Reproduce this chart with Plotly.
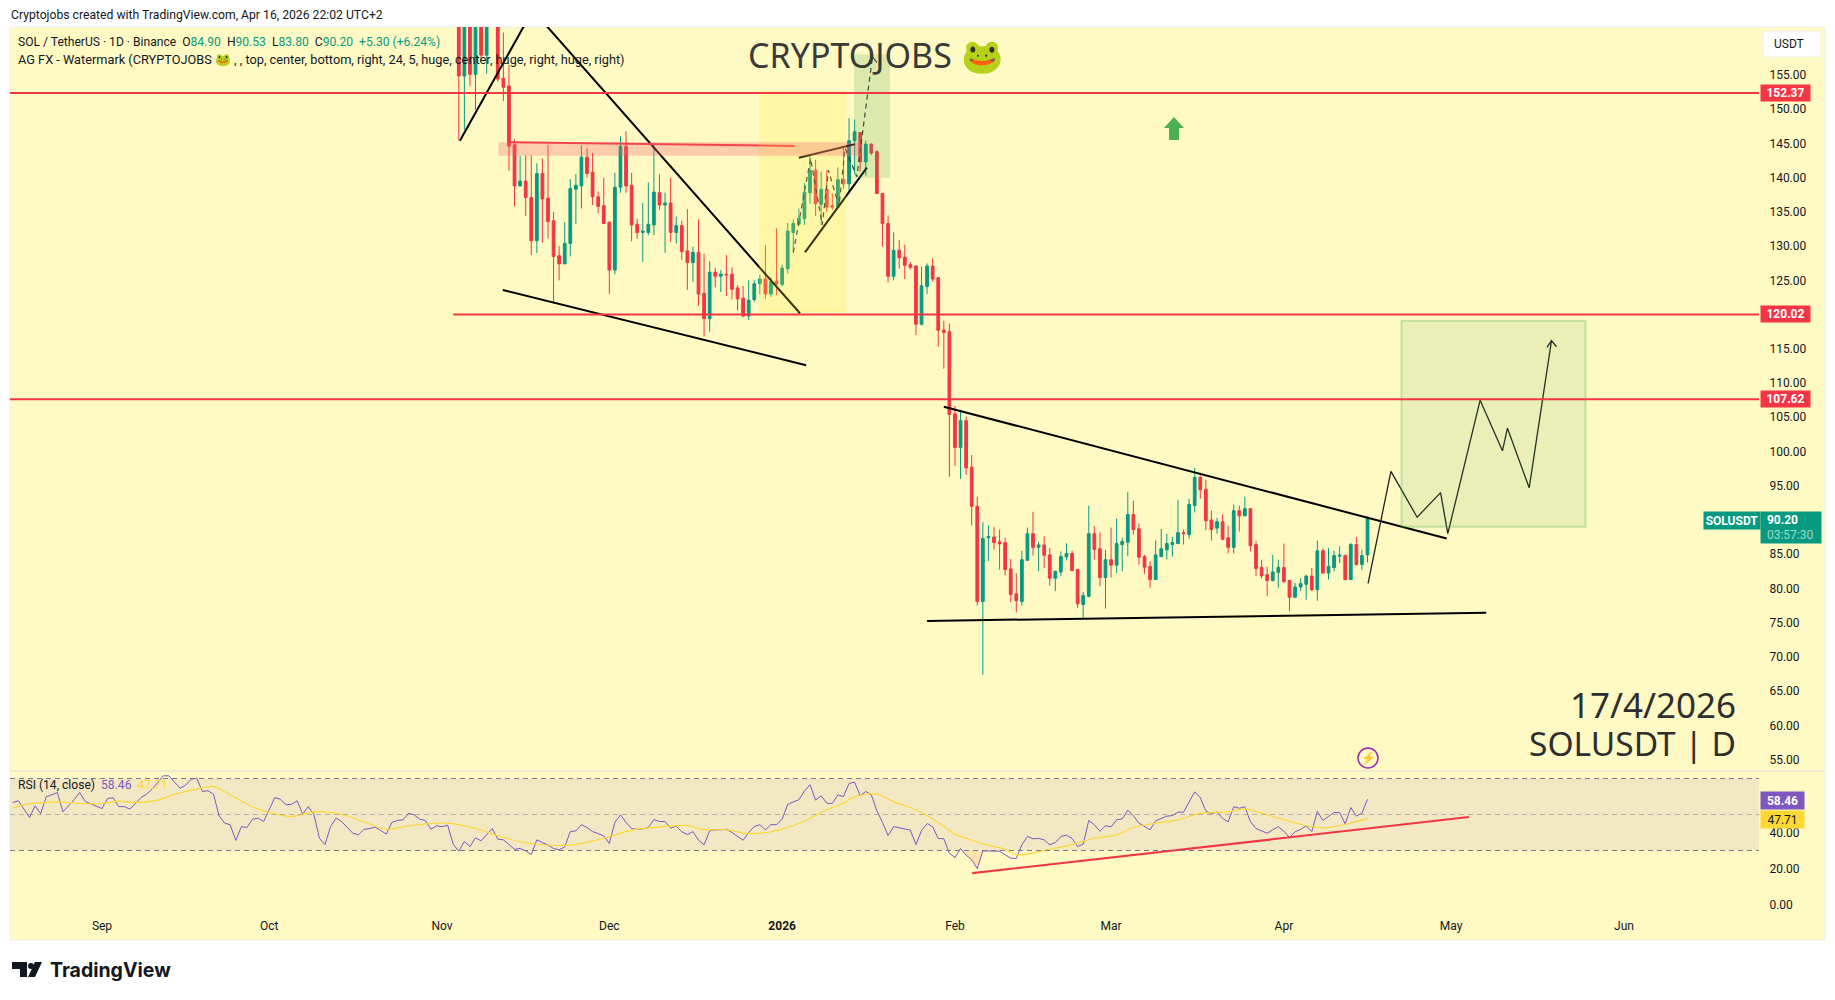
import pandas as pd
import plotly.graph_objects as go

# --- values ---
base_day = pd.Timestamp("2025-09-01")
candle_start = "2025-11-04"
rsi_start = "2025-08-16"

opens = [170,154.85,165,155.1,167,157.9,167,165,154.5,153.4,144.8,138.8,139.5,137.1,130.8,140.6,137,133.7,128.6,127.4,
         130.4,138.3,138.8,143,140.8,137.2,135.9,133.5,126.5,138.6,144.6,138.9,133.2,132,132,133.1,137.8,136,136.3,132,
         133,129.3,127.6,129.1,123.1,119.4,126.2,125.6,125.9,125.9,123.9,122.4,119.8,122.2,124.5,125.2,123,124.9,124.4,126.7,
         132,133.2,134,137.8,141.1,136.1,138.3,135.9,135.7,139.7,139.1,145.4,146.6,142.3,144.9,143.8,137.7,133.3,125.6,129.4,
         128.4,127.3,127.1,118.6,124.1,127.1,125.4,117.75,117.5,105.5,100.6,104.5,97.7,92,78.1,87.4,87.5,86.8,86.7,82.85,
         79.2,78.1,84.1,88,86,86.35,84.9,81.5,82.4,84.6,85.1,82.75,77.65,78.85,88,85.8,81.6,84.2,83.4,86.4,
         86.75,90.8,88.7,84.65,83.2,81.3,84.65,85.65,86.4,86.55,88.15,87.85,92.1,96.2,94.5,90,88.8,89.75,87.4,86,
         91.35,90.6,91.65,86.4,83.05,82,81.15,82.35,83.05,81.15,78.7,80.2,80.6,81.8,79.8,85.5,82.25,83.05,84.7,84.8,
         81.3,86.4,83.5,84.9]
highs = [172,170,167,168,168,168,172,167,161.2,156.5,145.6,143.2,143.3,143.3,142.1,142.8,144.8,135,130,133.5,
         139.8,140.5,144.7,144.3,143.6,138,140,133.6,140.7,146.1,146.8,140.7,134,136.3,139.3,144.9,140.5,137.8,140,134.3,
         133.7,135.4,129.9,133.9,128.9,127.8,126.8,126.5,128.7,126.9,124.3,124.2,125,125,125.8,130.2,125.5,132.6,127.3,133.4,
         133.9,135.5,139.2,143.4,142.6,140.9,141.1,137.7,141.5,144.5,148.7,148.5,146.6,145.4,145,144,137.7,134.5,132,130.9,
         130.2,127.7,127.2,127,127.5,128.2,125.5,119.1,118.7,106.65,106.1,105.1,99.5,93.4,89.66,89.2,89,88.6,87.4,84.3,
         82.2,85.5,88.9,91.2,86.8,87.6,85.9,82.6,85.4,86.6,85.5,82.75,79.5,92.1,89.1,88.2,85.6,88.9,90.2,87.4,
         94.05,92.8,89.5,84.9,84,87,88.7,88,87.5,92.95,88.6,93.1,97.6,96.9,95.9,91.35,90.3,90.8,89.15,92.25,
         92.1,93.4,91.75,86.95,84.2,83.15,84.9,84.2,86.55,81.15,80.8,81.5,82,83,87,85.85,85.9,85.5,86.15,84.95,
         86.65,87.5,85.65,90.53]
lows = [145.4,147,153.4,149.9,157,155.2,163.5,154,151.2,141,135.8,138.7,134.4,128.7,129,130.5,131.1,121.6,125,127.4,
        128.5,133.2,135.5,140,136,134.8,133.3,123,125.9,137.8,137.8,130.7,131.1,127.7,131.6,131.6,135.3,129,130.6,130.4,
        128,123.6,124.8,121.3,116.8,117.5,124,123.3,122.7,122.2,120.6,119.6,119.2,121.9,123,122.3,122.6,122.9,124.1,126,
        129.2,133.1,133.1,136.2,134.4,133.1,135,135.3,135.7,138.4,137.9,140.6,140.9,140.3,143.3,137.6,129.9,124.7,125,126.7,
        125.2,126.6,117,118.4,123,124.8,115.3,112.1,96.3,97.9,96,96.6,89.2,77.5,67.4,84,85.7,82.75,81.9,78,
        76.5,77.5,84.1,84.8,82.5,83,80.4,79.6,81.8,84.1,82.5,77.15,75.7,78.7,84.2,80.3,77.05,81.6,82.25,82.5,
        84.7,87.85,83.5,82.15,80.1,81.3,84.65,84.2,84.65,86.55,86.4,87.3,91.1,93.1,88.5,87,88,87,85.1,85.1,
        88.3,90.6,85.4,81.8,81.5,78.85,81,80.1,80.8,76.65,78.7,79.6,78.35,79.6,78.2,82.15,81.3,82.5,83.7,81.15,
        81.3,83.35,82.65,83.8]
closes = [154.85,165,155.1,167,157.9,167,166,154.4,153.2,144.6,138.8,139.5,137.1,130.8,140.6,136.9,133.6,128.5,127.4,130.4,
          138.4,138.9,143,140.6,137.2,135.8,133.3,126.5,138.6,144.6,138.8,133.1,132,132.2,133.2,137.9,136,136.3,132,133,
          129.2,127.6,129.1,123,119.4,126.2,125.6,125.9,125.8,123.7,122.3,119.8,122.1,124.5,125.2,123,124.8,124.5,126.8,132.2,
          133.3,134.1,137.9,141.1,136.2,138.3,135.7,135.7,139.7,139.1,145.4,146.7,142.3,144.9,143.6,137.7,133.3,125.6,129.4,128.3,
          127.2,126.9,118.6,124.2,127.1,125.2,117.7,117.4,105.4,100.6,104.5,97.6,92,78.1,87.3,87.6,86.7,86.5,82.75,79.1,
          78.2,84.2,88,86,86.35,84.85,81.5,82.5,84.65,85.1,82.6,77.75,78.95,88,85.7,81.6,84.2,83.4,86.55,86.85,
          90.8,88.6,84.55,83.1,81.3,84.9,85.8,86.55,86.7,88.15,88,92.25,96.2,94.4,89.9,88.6,89.75,87.2,86,91.35,
          90.6,91.65,86.25,82.9,81.85,81.15,82.4,83.05,81,78.7,80.2,80.7,81.8,79.8,85.5,82.25,83.2,84.8,84.85,81.3,
          86.4,83.5,84.8,90.2]

rsi = [56.7,57.6,53,48.3,54.8,50.5,59.8,60.9,62.2,51.5,54.8,58.2,62.2,57.2,55.9,54.8,53.3,58.9,59.3,54.4,54.4,53,56.3,59.4,61.3,
       64.1,67.8,71.5,71.5,68.1,64.6,66.3,69.6,70.2,62.8,63.2,61.3,49.3,45.2,44.3,35.6,43.2,42.8,47.4,48,46.1,53,59.4,58.5,55.4,
       55.7,57.6,50.2,54.4,50.2,36.8,33.3,43.3,48,46.1,42.8,39.6,38.7,41.8,42.2,43,41.1,39.1,45.6,46.7,47,50.7,49.8,47.4,46.7,
       41.8,43.7,43.2,44.1,33.5,29.6,35,32.2,37,35.4,38.9,42.2,36.3,35.9,33.3,30.7,31.1,29.8,27.8,35.9,34.4,33.1,31.1,30.4,32,
       40.5,40.9,44.3,42.8,40.5,39.4,38.1,33.9,45.6,49.8,45.6,42.2,41.7,42,42.8,47.2,46.1,46.1,42.4,43.5,40.4,38.9,40.5,35.7,
       33.2,40.9,41.5,41.5,41.8,40,37.8,35.7,40,43.3,44.3,41.5,44.4,44.3,47.4,55.6,57,58.2,63,66.5,58,60.4,56.3,56.1,60.9,60,
       67.2,68,60.4,62.8,60.9,52,45.6,38.3,43.3,42.6,41.8,41.3,33.3,41.1,45,43.2,36.7,36.5,28.5,26.1,31.1,27.4,24.8,20,29.8,
       29.8,29.8,29.6,27.6,25.7,25.6,33.2,37.8,36.5,36.7,35.9,33.2,34.4,37.8,38.5,36.7,32.2,33.5,46.7,44.3,40.7,43.7,43.2,47,
       47.6,52.4,49.3,45.2,43.2,41.5,46.5,48,49.1,49.4,51.3,51.3,57,62.6,59.4,52,50.2,51.5,47.8,45.9,54.3,53.5,54.3,46.1,42.2,
       40.7,39.6,41.5,43.2,40.7,37.2,40.4,41.7,43.7,40.5,51.7,46.7,48.9,51.1,51.1,44.8,53.9,49.1,50.7,58.46]

rsi_ma_days = [-16,-14,-10,-8,-4,0,3,6,10,13,17,20,22,27,30,34,38,43,47,51,55,62,67,72,77,84,90,95,99,105,107,109,112,116,
               120,125,130,133,135,139,142,146,150,153,155,158,162,164,170,174,178,182,185,190,193,197,202,205,210,215,219,223,227]
rsi_ma = [53.5,55.5,56.7,57,56.1,56.1,57.4,56.7,58,61.3,64.1,65.6,62.6,54.3,51.1,48.9,51.5,50,45.9,41.8,43.7,45.2,42.2,37.2,33.9,33,36.8,41.3,42.8,43.9,42.2,41.5,41.5,39.4,
          40.4,45,52.6,56.3,59.8,61.3,57,52.6,45.6,39.1,36.8,33.7,30.7,27.6,30.7,33.3,36.8,38.7,42.8,45.6,47,50.6,51.5,53,48.9,44.6,42.6,44.6,47.71]

month_days = [0,30,61,91,122,153,181,212,242,273]
month_labels = ["Sep","Oct","Nov","Dec","<b>2026</b>","Feb","Mar","Apr","May","Jun"]
# 90.00 and 60.00 sit under the value boxes in the reference
price_ticks = [55,60,65,70,75,80,85,95,100,105,110,115,120,125,130,135,140,145,150,155]
rsi_ticks = [0,20,40]

levels = [152.37,120.02,107.62]

# drawings on the chart: day offset from 1 Sep, price
wedge_up_days = [64.2,78.6]
wedge_up_prices = [145.4,166.4]
fall_days = [75.6,125.2]
fall_prices = [166,120.2]
low_fall_days = [71.9,126.3]
low_fall_prices = [123.6,112.6]
flag_top_days = [125,135.1]
flag_top_prices = [142.9,144.9]
flag_low_days = [126.1,137.2]
flag_low_prices = [129.1,141.46]
zig_days = [124,127.1,129.2,130.3,132.2,133.3,135.4,138.2]
zig_prices = [129.05,142.8,133.1,141.1,135.8,144.3,140.15,157.67]
zig_head_days = [137.6,138.2,139]
zig_head_prices = [156.9,157.67,156.8]
zone_line_days = [73.2,124.2]
zone_line_prices = [145.16,144.63]
tri_top_days = [151,241.2]
tri_top_prices = [106.55,87.3]
tri_low_days = [148,248.3]
tri_low_prices = [75.25,76.45]
proj_days = [227.1,231.2,235.9,240.1,241.4,247.2,251.2,252.1,256,260]
proj_prices = [80.75,97.1,90.4,94,88,107.5,100.1,103.4,94.7,116.2]
proj_head_days = [259.2,260,260.9]
proj_head_prices = [115.2,116.2,115.3]
rsi_line_days = [156.1,245.2]
rsi_line_values = [17.4,48.6]

UP = "#089981"
DOWN = "#F23645"
BG = "#FFF9C4"
PURPLE = "#7E57C2"
GOLD = "#FDD835"
TEXT = "#131722"
FONT = "Roboto"

PLOT_L, PLOT_R, PLOT_T, PLOT_B = 10, 1759, 27, 912


def day(d):
    return base_day + pd.Timedelta(days=d)


def days(ds):
    return [day(d) for d in ds]


def fx(px):
    return (px - PLOT_L) / (PLOT_R - PLOT_L)


def fy(px):
    return (PLOT_B - px) / (PLOT_B - PLOT_T)


def path(points, close=True):
    s = " ".join(("M" if i == 0 else "L") + f"{fx(x):.5f},{fy(y):.5f}" for i, (x, y) in enumerate(points))
    return s + (" Z" if close else "")


candle_dates = pd.date_range(candle_start, periods=len(closes), freq="D")
rsi_dates = pd.date_range(rsi_start, periods=len(rsi), freq="D")

fig = go.Figure()

fig.add_trace(go.Candlestick(x=candle_dates, open=opens, high=highs, low=lows, close=closes, xaxis="x", yaxis="y",
                             increasing=dict(line=dict(color=UP, width=1), fillcolor=UP),
                             decreasing=dict(line=dict(color=DOWN, width=1), fillcolor=DOWN),
                             whiskerwidth=0))


def draw(ds, ys, color="#000000", width=2, dash=None, yaxis="y"):
    fig.add_trace(go.Scatter(x=days(ds), y=ys, mode="lines", yaxis=yaxis, xaxis="x",
                             line=dict(color=color, width=width, dash=dash)))


for ds, ys in [(wedge_up_days, wedge_up_prices), (fall_days, fall_prices), (low_fall_days, low_fall_prices),
               (flag_top_days, flag_top_prices), (flag_low_days, flag_low_prices),
               (tri_top_days, tri_top_prices), (tri_low_days, tri_low_prices)]:
    draw(ds, ys)
draw(zig_days, zig_prices, color="#333333", width=1.2, dash="5px,4px")
draw(zig_head_days, zig_head_prices, color="#333333", width=1.2)
draw(zone_line_days, zone_line_prices, color=DOWN, width=2)
draw(proj_days, proj_prices, color="#222222", width=1.3)
draw(proj_head_days, proj_head_prices, color="#222222", width=1.3)

# rsi pane
oversold_slice = rsi[170:175]
fig.add_trace(go.Scatter(x=rsi_dates[170:175], y=[30] * 5, mode="lines", line=dict(width=0), yaxis="y2", xaxis="x"))
fig.add_trace(go.Scatter(x=rsi_dates[170:175], y=[min(v, 30) for v in oversold_slice], mode="lines", line=dict(width=0),
                         fill="tonexty", fillcolor="rgba(255,130,70,0.18)", yaxis="y2", xaxis="x"))
fig.add_trace(go.Scatter(x=rsi_dates, y=rsi, mode="lines", line=dict(color=PURPLE, width=1), yaxis="y2", xaxis="x"))
fig.add_trace(go.Scatter(x=days(rsi_ma_days), y=rsi_ma, mode="lines", line=dict(color=GOLD, width=1.2, shape="spline"),
                         yaxis="y2", xaxis="x"))
draw(rsi_line_days, rsi_line_values, color=DOWN, width=2.2, yaxis="y2")

right_edge = day((PLOT_R - 102) / 5.575)
shapes = [
    # panel behind everything
    dict(type="rect", xref="paper", yref="paper", x0=0, x1=fx(1825), y0=fy(940), y1=1, layer="below",
         fillcolor=BG, line=dict(color="#EFEFEA", width=1)),
    dict(type="line", xref="paper", yref="paper", x0=0, x1=fx(1825), y0=fy(771), y1=fy(771), layer="below",
         line=dict(color="#D9D9DC", width=1)),
    # boxes on the price pane
    dict(type="rect", xref="x", yref="y", x0=day(118), x1=day(133.3), y0=120.4, y1=152.56, layer="above",
         fillcolor="rgba(255,235,59,0.22)", line=dict(color="rgba(255,235,59,0.3)", width=1)),
    dict(type="rect", xref="x", yref="y", x0=day(134.9), x1=day(141.35), y0=140, y1=158, layer="above",
         fillcolor="rgba(76,175,80,0.2)", line=dict(width=0)),
    dict(type="rect", xref="x", yref="y", x0=day(71.1), x1=day(136.1), y0=143.2, y1=145.16, layer="above",
         fillcolor="rgba(245,102,109,0.3)", line=dict(width=0)),
    dict(type="rect", xref="x", yref="y", x0=day(233.1), x1=day(266.1), y0=89.02, y1=119.11, layer="above",
         fillcolor="rgba(76,175,80,0.12)", line=dict(color="rgba(76,175,80,0.3)", width=2)),
    # rsi band
    dict(type="rect", xref="paper", yref="y2", x0=0, x1=1, y0=30, y1=70, layer="below",
         fillcolor="rgba(126,87,194,0.1)", line=dict(width=0)),
    dict(type="line", xref="paper", yref="y2", x0=0, x1=1, y0=70, y1=70, line=dict(color="#787B86", width=1, dash="5px,4px")),
    dict(type="line", xref="paper", yref="y2", x0=0, x1=1, y0=50, y1=50, line=dict(color="rgba(120,123,134,0.5)", width=1, dash="5px,4px")),
    dict(type="line", xref="paper", yref="y2", x0=0, x1=1, y0=30, y1=30, line=dict(color="#787B86", width=1, dash="5px,4px")),
    # green arrow
    dict(type="path", xref="paper", yref="paper", fillcolor="#4CAF50", line=dict(width=0),
         path=path([(1174,117),(1184,128),(1179,128),(1179,140),(1169,140),(1169,128),(1164,128)])),
    # lightning circle
    dict(type="circle", xref="paper", yref="paper", x0=fx(1358), x1=fx(1378), y0=fy(768), y1=fy(748),
         line=dict(color="#9C27B0", width=1.5)),
    # usdt button
    dict(type="rect", xref="paper", yref="paper", x0=fx(1763), x1=fx(1821), y0=fy(57), y1=fy(31),
         fillcolor="#FFFFFF", line=dict(color="#F0EEDC", width=1)),
    # tradingview logo
    dict(type="path", xref="paper", yref="paper", fillcolor="#131722", line=dict(width=0),
         path=path([(12,962),(27,962),(27,977),(20,977),(20,969),(12,969)])),
    dict(type="circle", xref="paper", yref="paper", x0=fx(28), x1=fx(34), y0=fy(969), y1=fy(963),
         fillcolor="#131722", line=dict(width=0)),
    dict(type="path", xref="paper", yref="paper", fillcolor="#131722", line=dict(width=0),
         path=path([(35,962),(42,962),(35,977),(28,977)])),
]
for lv in levels:
    x0 = day(63) if lv == 120.02 else day(-16.5)
    shapes.append(dict(type="line", xref="x", yref="y", x0=x0, x1=right_edge, y0=lv, y1=lv,
                       line=dict(color=DOWN, width=2), layer="above"))


def note(text, x, y, size=12, color=TEXT, anchor="left", family=FONT, **kw):
    return dict(text=text, xref="paper", yref="paper", x=fx(x), y=fy(y), showarrow=False, xanchor=anchor, yanchor="middle",
                font=dict(family=family, size=size, color=color), **kw)


def val(s):
    return f"<span style='color:{UP}'>{s}</span>"


header = ("SOL / TetherUS · 1D · Binance  O" + val("84.90") + "  H" + val("90.53") + "  L" + val("83.80")
          + "  C" + val("90.20") + "  " + val("+5.30 (+6.24%)"))
stamp = ("<span style='font-size:35px'>17/4/2026</span><br>"
         "<span style='font-size:33.5px'>SOLUSDT | D</span>")
annotations = [
    note("Cryptojobs created with TradingView.com, Apr 16, 2026 22:02 UTC+2", 9, 15, size=12.2),
    note(header, 16, 42, size=12.1),
    note("AG FX - Watermark (CRYPTOJOBS 🐸 , , top, center, bottom, right, 24, 5, huge, center, huge, right, huge, right)",
         16, 59, size=12.75),
    note("CRYPTOJOBS 🐸", 746, 55, size=34, color="#3A3A3A", family="Noto Sans"),
    note(stamp, 1738, 723, size=29, color="#2E2E2E", anchor="right", family="Noto Sans", align="right"),
    note("⚡", 1368, 758, size=12, color="#9C27B0", anchor="center"),
    note("USDT", 1772, 44, size=12),
    note("RSI (14, close)  <span style='color:#7E57C2'>58.46</span>  <span style='color:#FDD835'>47.71</span>", 16, 785, size=12.1),
    note("<b>TradingView</b>", 48, 970, size=19.5, color="#131722", family="Inter"),
    note("<b>SOLUSDT</b>", 1703, 520.5, size=12, color="#FFFFFF", bgcolor=UP, width=56, height=17, borderpad=0, align="center"),
    note("&nbsp;&nbsp;<b>90.20</b><br>&nbsp;&nbsp;<span style='color:#9AD9CB'>03:57:30</span>", 1760, 527.5, size=12,
         color="#FFFFFF", bgcolor=UP, width=60, height=31, borderpad=0, align="left"),
    note("<b>58.46</b>", 1760, 800.5, size=12, color="#FFFFFF", bgcolor=PURPLE, width=43, height=17, borderpad=0, align="center"),
    note("47.71", 1760, 819.5, size=12, color=TEXT, bgcolor=GOLD, width=43, height=17, borderpad=0, align="center"),
]
for lv in levels:
    annotations.append(dict(text=f"<b>{lv:.2f}</b>", xref="paper", yref="y", x=fx(1760), y=lv, showarrow=False, xanchor="left",
                            yanchor="middle", font=dict(family=FONT, size=12, color="#FFFFFF"), bgcolor=DOWN,
                            width=49, height=16, borderpad=0, align="center"))

fig.update_layout(
    width=1835, height=1000,
    margin=dict(l=PLOT_L, r=1835 - PLOT_R, t=PLOT_T, b=1000 - PLOT_B),
    paper_bgcolor="#FFFFFF", plot_bgcolor="rgba(0,0,0,0)",
    showlegend=False, hovermode=False,
    font=dict(family=FONT, size=12, color=TEXT),
    shapes=shapes, annotations=annotations,
    xaxis=dict(domain=[0, 1], anchor="y2", range=[day(-16.5), right_edge], rangeslider=dict(visible=False),
               tickmode="array", tickvals=days(month_days), ticktext=month_labels, showgrid=False, zeroline=False,
               showline=False, ticks="outside", ticklen=3, tickcolor="rgba(0,0,0,0)", tickfont=dict(size=12)),
    yaxis=dict(domain=[fy(771), 1], anchor="x", side="right", range=[53.33, 162.01], tickmode="array",
               tickvals=price_ticks, ticktext=[f"{v:.2f}" for v in price_ticks], showgrid=False, zeroline=False,
               showline=False, ticks="outside", ticklen=7, tickcolor="rgba(0,0,0,0)", tickfont=dict(size=12)),
    yaxis2=dict(domain=[0, fy(771)], anchor="x", side="right", range=[-4.17, 74.17], tickmode="array",
                tickvals=rsi_ticks, ticktext=[f"{v:.2f}" for v in rsi_ticks], showgrid=False, zeroline=False,
                showline=False, ticks="outside", ticklen=7, tickcolor="rgba(0,0,0,0)", tickfont=dict(size=12)),
)

fig.write_html("out.html", config=dict(displayModeBar=False),
               post_script="document.body.style.margin='0';document.body.style.overflow='hidden';")
